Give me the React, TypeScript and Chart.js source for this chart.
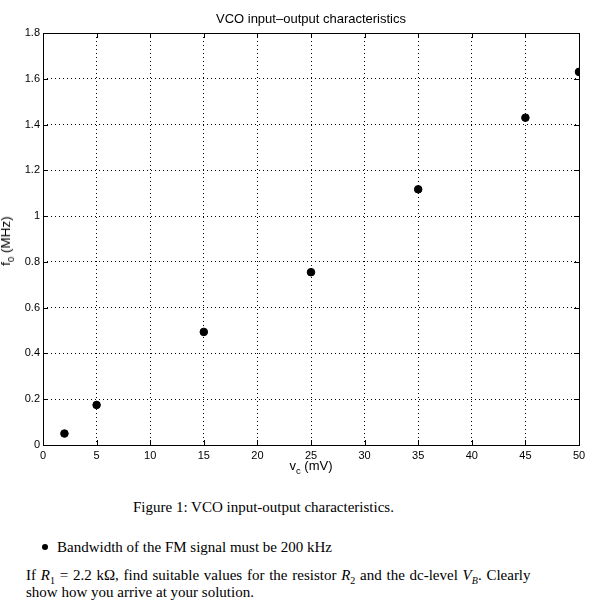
import React, { useEffect, useRef } from "react";
import { Chart, registerables } from "chart.js";

Chart.register(...registerables);

const vcValues = [2, 5, 15, 25, 35, 45, 50];
const f0Values = [0.05, 0.175, 0.494, 0.755, 1.117, 1.43, 1.63];
const xTicks = [0, 5, 10, 15, 20, 25, 30, 35, 40, 45, 50];
const yTicks = [0, 0.2, 0.4, 0.6, 0.8, 1, 1.2, 1.4, 1.6, 1.8];
const titleText = "VCO input\u2013output characteristics";

const W = 594;
const CH = 480;
const LEFT = 43;
const RIGHT = 579;
const TOP = 33;
const BOTTOM = 445;

const framePlugin = {
  id: "frame",
  afterDatasetsDraw(chart: any) {
    const { ctx, chartArea, scales } = chart;
    const { left, right, top, bottom } = chartArea;
    ctx.save();
    ctx.strokeStyle = "#000";
    ctx.lineWidth = 1;
    ctx.setLineDash([]);
    ctx.beginPath();
    const tl = 5;
    xTicks.forEach((v) => {
      const x = Math.round(scales.x.getPixelForValue(v)) + 0.5;
      ctx.moveTo(x, bottom);
      ctx.lineTo(x, bottom - tl);
      ctx.moveTo(x, top);
      ctx.lineTo(x, top + tl);
    });
    yTicks.forEach((v) => {
      const y = Math.round(scales.y.getPixelForValue(v)) + 0.5;
      ctx.moveTo(left, y);
      ctx.lineTo(left + tl, y);
      ctx.moveTo(right, y);
      ctx.lineTo(right - tl, y);
    });
    ctx.stroke();
    ctx.strokeRect(Math.round(left) + 0.5, Math.round(top) + 0.5, Math.round(right - left), Math.round(bottom - top));
    ctx.restore();
  },
};

function ChartBox() {
  const ref = useRef<HTMLCanvasElement | null>(null);
  useEffect(() => {
    if (!ref.current) return;
    const chart = new Chart(ref.current, {
      type: "scatter",
      data: {
        datasets: [
          {
            data: vcValues.map((x, i) => ({ x, y: f0Values[i] })),
            backgroundColor: "#000",
            borderColor: "#000",
            pointRadius: 3.8,
            pointHoverRadius: 3.8,
            showLine: false,
          },
        ],
      },
      options: {
        animation: false,
        responsive: false,
        maintainAspectRatio: false,
        layout: { padding: { left: 0, right: W - RIGHT, top: TOP, bottom: 0 } },
        plugins: { legend: { display: false }, tooltip: { enabled: false }, title: { display: false } },
        scales: {
          x: {
            type: "linear",
            min: 0,
            max: 50,
            afterBuildTicks: (s: any) => {
              s.ticks = xTicks.map((v) => ({ value: v }));
            },
            afterFit: (s: any) => {
              s.height = CH - BOTTOM;
            },
            ticks: {
              color: "#000",
              font: { family: "'Liberation Sans', Arial, sans-serif", size: 11 },
              padding: 4,
              maxRotation: 0,
              callback: (v: any) => String(v),
            },
            grid: { color: "#000", lineWidth: 1, drawTicks: false },
            border: { display: false, dash: [1, 3] },
          },
          y: {
            type: "linear",
            min: 0,
            max: 1.8,
            afterBuildTicks: (s: any) => {
              s.ticks = yTicks.map((v) => ({ value: v }));
            },
            afterFit: (s: any) => {
              s.width = LEFT;
            },
            ticks: {
              color: "#000",
              font: { family: "'Liberation Sans', Arial, sans-serif", size: 11 },
              padding: 3,
              callback: (v: any) => String(Math.round(v * 10) / 10),
            },
            grid: { color: "#000", lineWidth: 1, drawTicks: false },
            border: { display: false, dash: [1, 3] },
          },
        },
      },
      plugins: [framePlugin],
    });
    return () => chart.destroy();
  }, []);
  return <canvas ref={ref} width={W} height={CH} style={{ position: "absolute", left: 0, top: 0, width: W, height: CH }} />;
}

const sans = "'Liberation Sans', Arial, Helvetica, sans-serif";
const serif = "'Liberation Serif', 'Times New Roman', serif";

export default function App() {
  const line: React.CSSProperties = { position: "absolute", whiteSpace: "nowrap", fontFamily: serif, fontSize: 15, color: "#000", lineHeight: "17px" };
  return (
    <div style={{ position: "fixed", left: 0, top: 0, width: W, height: 610, background: "#fff", overflow: "hidden" }}>
      <ChartBox />
      <div style={{ position: "absolute", left: LEFT, width: RIGHT - LEFT, top: 11, textAlign: "center", fontFamily: sans, fontSize: 13, color: "#000" }}>
        {titleText}
      </div>
      <div
        style={{
          position: "absolute",
          left: 7,
          top: 241,
          transform: "translate(-50%, -50%) rotate(-90deg)",
          whiteSpace: "nowrap",
          fontFamily: sans,
          fontSize: 13.5,
          color: "#000",
        }}
      >
        f<sub style={{ fontSize: 9.5, verticalAlign: "-4px" }}>0</sub> (MHz)
      </div>
      <div style={{ position: "absolute", left: LEFT, width: RIGHT - LEFT, top: 458, textAlign: "center", fontFamily: sans, fontSize: 13, color: "#000" }}>
        v<sub style={{ fontSize: 9.5, verticalAlign: "-4px" }}>c</sub> (mV)
      </div>
      <div style={{ ...line, left: 133, top: 499 }}>Figure 1: VCO input-output characteristics.</div>
      <div style={{ position: "absolute", left: 42, top: 544, width: 6, height: 6, borderRadius: 3, background: "#000" }} />
      <div style={{ ...line, left: 57, top: 539 }}>Bandwidth of the FM signal must be 200 kHz</div>
      <div style={{ ...line, left: 26, top: 567, wordSpacing: 1 }}>
        If <i>R</i>
        <sub style={{ fontSize: 10, lineHeight: 0 }}>1</sub> = 2.2 k&Omega;, find suitable values for the resistor <i>R</i>
        <sub style={{ fontSize: 10, lineHeight: 0 }}>2</sub> and the dc-level <i>V</i>
        <sub style={{ fontSize: 10, lineHeight: 0 }}>
          <i>B</i>
        </sub>
        . Clearly
      </div>
      <div style={{ ...line, left: 26, top: 584 }}>show how you arrive at your solution.</div>
    </div>
  );
}
